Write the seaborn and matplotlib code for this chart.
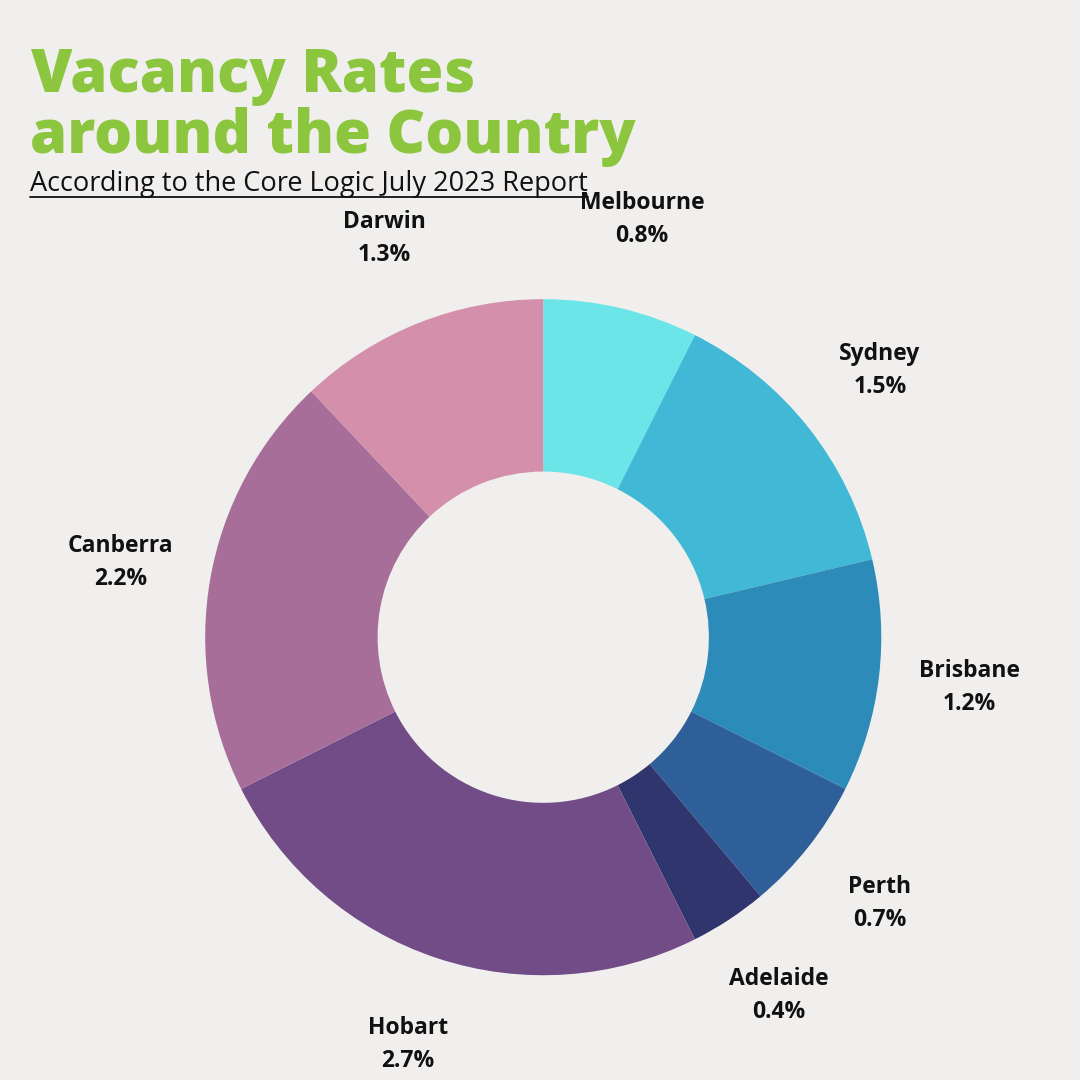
import matplotlib
matplotlib.use("Agg")
import matplotlib.pyplot as plt
import seaborn as sns

cities = ["Melbourne", "Sydney", "Brisbane", "Perth", "Adelaide", "Hobart", "Canberra", "Darwin"]
rates = [0.8, 1.5, 1.2, 0.7, 0.4, 2.7, 2.2, 1.3]
colors = ["#6ce5e8", "#41b8d5", "#2d8bba", "#2f5f98", "#31356e", "#714c87", "#a66e99", "#d490aa"]
bg = "#f0efed"

sns.set_theme(style="white", rc={"figure.facecolor": bg, "axes.facecolor": bg})
fig = plt.figure(figsize=(10.8, 10.8), dpi=100)
ax = fig.add_axes([0.503 - 0.313, 0.41 - 0.313, 0.626, 0.626])
labels = [f"{c}\n{v}%" for c, v in zip(cities, rates)]
wedges, texts = ax.pie(rates, colors=colors, startangle=90, counterclock=False,
                       radius=1, wedgeprops=dict(width=0.51, linewidth=0),
                       labels=labels, labeldistance=1.27,
                       textprops=dict(fontsize=16.5, fontweight="bold", family="Open Sans",
                                      color="#111111", ha="center", va="center", linespacing=1.5))
for t in texts:
    t.set_ha("center")
ax.set_xlim(-1, 1); ax.set_ylim(-1, 1); ax.set_aspect("equal"); ax.axis("off")

green = "#8cc63f"
fig.text(0.028, 0.915, "Vacancy Rates", fontsize=43, fontweight="heavy", family="Open Sans", color=green, va="baseline")
fig.text(0.028, 0.858, "around the Country", fontsize=43, fontweight="heavy", family="Open Sans", color=green, va="baseline")
sub = fig.text(0.028, 0.823, "According to the Core Logic July 2023 Report", fontsize=19.5, family="Open Sans", color="#111111", va="baseline")
fig.canvas.draw()
bb = sub.get_window_extent().transformed(fig.transFigure.inverted())
fig.add_artist(plt.Line2D([bb.x0, bb.x1], [0.818, 0.818], color="#111111", lw=1.3, transform=fig.transFigure))
fig.savefig("out.png", dpi=100, facecolor=bg)
